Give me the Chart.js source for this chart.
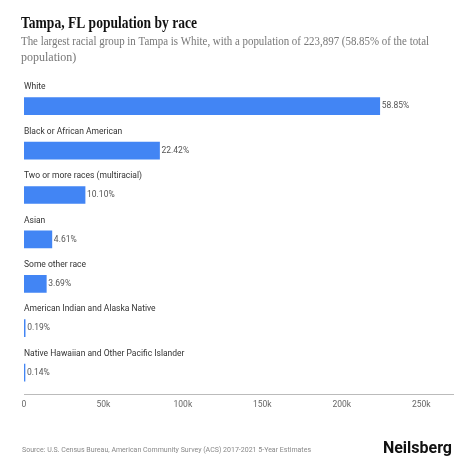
<!DOCTYPE html>
<html>
<head>
<meta charset="utf-8">
<script src="https://cdn.jsdelivr.net/npm/chart.js@4"></script>
<style>
  html, body { margin: 0; padding: 0; background: #fff; }
  #wrap { width: 474px; height: 474px; position: relative; }
</style>
</head>
<body>
<div id="wrap"><canvas id="chart" width="474" height="474"></canvas></div>
<script>
const categories = [
  "White",
  "Black or African American",
  "Two or more races (multiracial)",
  "Asian",
  "Some other race",
  "American Indian and Alaska Native",
  "Native Hawaiian and Other Pacific Islander"
];
const populations = [223897, 85303, 38428, 17540, 14040, 723, 533];
const shares = ["58.85%", "22.42%", "10.10%", "4.61%", "3.69%", "0.19%", "0.14%"];
const tickValues = [0, 50000, 100000, 150000, 200000, 250000];

// タイトル・ラベル・出典を描く
const decor = {
  id: "decor",
  afterDatasetsDraw(chart) {
    const ctx = chart.ctx;
    const meta = chart.getDatasetMeta(0);
    ctx.save();
    ctx.textBaseline = "middle";
    ctx.font = "8.5px Roboto";
    meta.data.forEach((bar, i) => {
      ctx.fillStyle = "#333";
      ctx.textAlign = "left";
      ctx.fillText(categories[i], 24, bar.y - 19);
      ctx.fillStyle = "#555";
      ctx.fillText(shares[i], bar.x + 2, bar.y);
    });

    ctx.fillStyle = "#111";
    ctx.font = "bold 17px 'Liberation Serif', serif";
    ctx.fillText("Tampa, FL population by race", 21, 24, 176);
    ctx.fillStyle = "#777";
    ctx.font = "12px 'Liberation Serif', serif";
    ctx.fillText("The largest racial group in Tampa is White, with a population of 223,897 (58.85% of the total", 21, 42, 408);
    ctx.fillText("population)", 21, 58);

    ctx.fillStyle = "#888";
    ctx.font = "8px Roboto";
    ctx.fillText("Source: U.S. Census Bureau, American Community Survey (ACS) 2017-2021 5-Year Estimates", 22, 450, 289);
    ctx.fillStyle = "#111";
    ctx.font = "bold 16px Roboto";
    ctx.textAlign = "right";
    ctx.fillText("Neilsberg", 452, 449);
    ctx.restore();
  }
};

new Chart(document.getElementById("chart"), {
  type: "bar",
  data: {
    labels: categories,
    datasets: [{
      data: populations,
      backgroundColor: "#4285f4",
      barThickness: 17,
      minBarLength: 1
    }]
  },
  options: {
    indexAxis: "y",
    responsive: false,
    animation: false,
    layout: { padding: { left: 24, right: 21, top: 84, bottom: 62 } },
    plugins: { legend: { display: false }, tooltip: { enabled: false } },
    scales: {
      x: {
        min: 0,
        max: 270000,
        afterBuildTicks(axis) { axis.ticks = tickValues.map(v => ({ value: v })); },
        grid: { display: false, drawTicks: true, tickLength: 3 },
        border: { color: "#bbb" },
        ticks: {
          color: "#666",
          font: { family: "Roboto", size: 8.5 },
          padding: 2,
          callback: v => v === 0 ? "0" : (v / 1000) + "k"
        }
      },
      y: {
        display: false,
        grid: { display: false }
      }
    }
  },
  plugins: [decor]
});
</script>
</body>
</html>
